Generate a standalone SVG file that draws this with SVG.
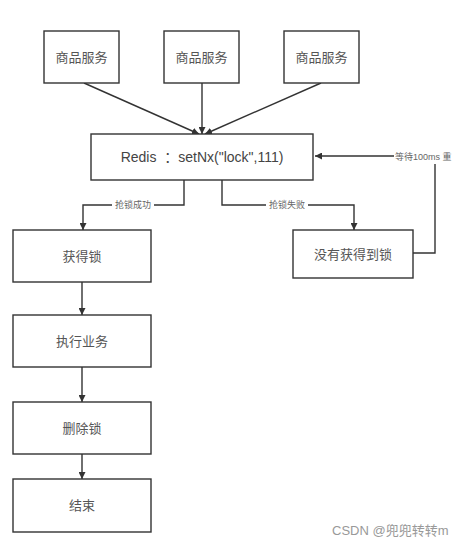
<svg xmlns="http://www.w3.org/2000/svg" width="474" height="548" viewBox="0 0 474 548">
<defs>
<style>
.box{fill:#fff;stroke:#333;stroke-width:1.4}
.t{font-family:"Liberation Sans","Noto Sans CJK SC",sans-serif;font-size:13px;fill:#555;text-anchor:middle;dominant-baseline:central}
.e{fill:none;stroke:#333;stroke-width:1.4}
.lbl{font-family:"Liberation Sans","Noto Sans CJK SC",sans-serif;font-size:9px;fill:#666;text-anchor:middle;dominant-baseline:central}
.wm{font-family:"Liberation Sans","Noto Sans CJK SC",sans-serif;font-size:13px;fill:#999}
</style>
<marker id="ah" viewBox="0 0 10 10" refX="10" refY="5" markerWidth="7" markerHeight="7" orient="auto" markerUnits="userSpaceOnUse">
<path d="M0,0 L10,5 L0,10 Z" fill="#333"/>
</marker>
<clipPath id="clipR"><rect x="0" y="0" width="455" height="548"/></clipPath>
</defs>
<rect width="474" height="548" fill="#fff"/>
<g id="connectors">
<line class="e" x1="84" y1="83" x2="199" y2="134" marker-end="url(#ah)"/>
<line class="e" x1="202" y1="83" x2="202" y2="134" marker-end="url(#ah)"/>
<line class="e" x1="321" y1="83" x2="205" y2="134" marker-end="url(#ah)"/>
<polyline class="e" points="184,180 184,205 83,205 83,230" marker-end="url(#ah)"/>
<rect x="112" y="200" width="42" height="10" fill="#fff"/>
<text class="lbl" x="133" y="205">抢锁成功</text>
<polyline class="e" points="222,180 222,205 354,205 354,230" marker-end="url(#ah)"/>
<rect x="266" y="200" width="42" height="10" fill="#fff"/>
<text class="lbl" x="287" y="205">抢锁失败</text>
<polyline class="e" points="413,253 435,253 435,156 315,156" marker-end="url(#ah)"/>
<rect x="394" y="150" width="61" height="14" fill="#fff"/>
<text class="lbl" x="395" y="157" style="text-anchor:start" clip-path="url(#clipR)">等待100ms 重</text>
<line class="e" x1="82" y1="282" x2="82" y2="315" marker-end="url(#ah)"/>
<line class="e" x1="82" y1="367" x2="82" y2="402" marker-end="url(#ah)"/>
<line class="e" x1="82" y1="454" x2="82" y2="479" marker-end="url(#ah)"/>
</g>
<g id="svc1"><rect class="box" x="44" y="31" width="75" height="52"/><text class="t" x="81.5" y="57">商品服务</text></g>
<g id="svc2"><rect class="box" x="164" y="31" width="75" height="52"/><text class="t" x="201.5" y="57">商品服务</text></g>
<g id="svc3"><rect class="box" x="284" y="31" width="75" height="52"/><text class="t" x="321.5" y="57">商品服务</text></g>
<g id="redis"><rect class="box" x="91" y="134" width="222" height="46"/><text class="t" x="202" y="157" style="font-size:14px;fill:#444">Redis&#160;&#160;：setNx(&quot;lock&quot;,111)</text></g>
<g id="getlock"><rect class="box" x="13" y="230" width="138" height="52"/><text class="t" x="82" y="256">获得锁</text></g>
<g id="nolock"><rect class="box" x="293" y="230" width="120" height="48"/><text class="t" x="353" y="254">没有获得到锁</text></g>
<g id="exec"><rect class="box" x="13" y="315" width="138" height="52"/><text class="t" x="82" y="341">执行业务</text></g>
<g id="del"><rect class="box" x="13" y="402" width="138" height="52"/><text class="t" x="82" y="428">删除锁</text></g>
<g id="end"><rect class="box" x="13" y="479" width="138" height="53"/><text class="t" x="82" y="505.5">结束</text></g>
<text class="wm" x="332" y="535">CSDN @兜兜转转m</text>
</svg>
